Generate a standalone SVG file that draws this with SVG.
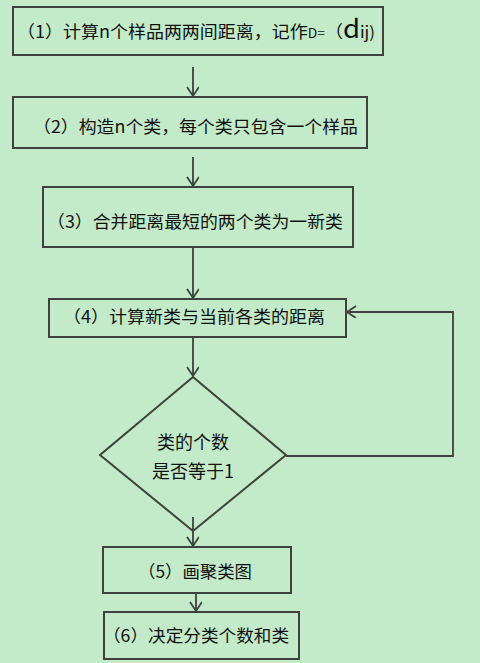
<svg xmlns="http://www.w3.org/2000/svg" width="480" height="663" viewBox="0 0 480 663">
<defs>
<marker id="ah" markerWidth="16" markerHeight="16" refX="10" refY="6" orient="auto" markerUnits="userSpaceOnUse">
<path d="M1,0 L10,6 L1,12" fill="none" stroke="#404040" stroke-width="1.8"/>
</marker>
<style>
.box{fill:none;stroke:#404040;stroke-width:2}
.t{font-family:"Noto Sans CJK SC","Noto Sans",sans-serif;font-size:17px;fill:#111}
.t.big{font-size:18px}
.c{fill:none;stroke:#404040;stroke-width:1.8}
</style>
</defs>
<rect width="480" height="663" fill="#C3EBC9"/>
<g id="n1"><rect class="box" x="13" y="7" width="370" height="48"/>
<text class="t" x="17" y="38" textLength="358" lengthAdjust="spacingAndGlyphs">（1）计算n个样品两两间距离，记作<tspan font-size="13">D=</tspan>（<tspan font-size="26">d</tspan><tspan font-size="16">ij)</tspan></text></g>
<g id="n2"><rect class="box" x="13" y="97" width="354" height="51"/>
<text class="t" x="33" y="133" textLength="325" lengthAdjust="spacingAndGlyphs">（2）构造n个类，每个类只包含一个样品</text></g>
<g id="n3"><rect class="box" x="43" y="187" width="310" height="60"/>
<text class="t" x="47" y="228" textLength="296" lengthAdjust="spacingAndGlyphs">（3）合并距离最短的两个类为一新类</text></g>
<g id="n4"><rect class="box" x="49" y="299" width="297" height="38"/>
<text class="t" x="63" y="323" textLength="262" lengthAdjust="spacingAndGlyphs">（4）计算新类与当前各类的距离</text></g>
<g id="d1"><polygon class="box" points="193,377 286,455 193,531 100,455"/>
<text class="t big" x="193" y="449" text-anchor="middle">类的个数</text>
<text class="t big" x="193" y="478" text-anchor="middle">是否等于1</text></g>
<g id="n5"><rect class="box" x="103" y="547" width="188" height="46"/>
<text class="t" x="138" y="578" textLength="114" lengthAdjust="spacingAndGlyphs">（5）画聚类图</text></g>
<g id="n6"><rect class="box" x="104" y="612" width="195" height="47"/>
<text class="t" x="103" y="642" textLength="186" lengthAdjust="spacingAndGlyphs">（6）决定分类个数和类</text></g>
<g id="connectors">
<line class="c" x1="193" y1="67" x2="193" y2="96" marker-end="url(#ah)"/>
<line class="c" x1="193" y1="157" x2="193" y2="186" marker-end="url(#ah)"/>
<line class="c" x1="193" y1="247" x2="193" y2="298" marker-end="url(#ah)"/>
<line class="c" x1="193" y1="337" x2="193" y2="376" marker-end="url(#ah)"/>
<polyline class="c" points="286,456 453,456 453,312 347,312" marker-end="url(#ah)"/>
<line class="c" x1="193" y1="517" x2="193" y2="546" marker-end="url(#ah)"/>
<line class="c" x1="196" y1="593" x2="196" y2="611" marker-end="url(#ah)"/>
</g>
</svg>
